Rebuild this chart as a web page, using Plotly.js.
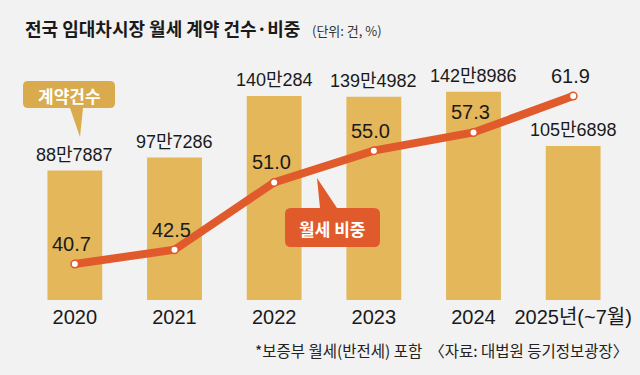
<!DOCTYPE html>
<html>
<head>
<meta charset="utf-8">
<script src="https://cdn.plot.ly/plotly-3.0.1.min.js"></script>
<style>html,body{margin:0;padding:0;background:#f2f2f2;}#chart{width:640px;height:375px;}</style>
</head>
<body>
<div id="chart"></div>
<script>
// ---- data ----
const years = ['2020', '2021', '2022', '2023', '2024', '2025년(~7월)'];
const counts = [887887, 977286, 1400284, 1394982, 1428986, 1056898];
const shares = [40.7, 42.5, 51.0, 55.0, 57.3, 61.9];
const titleText = '전국 임대차시장 월세 계약 건수·비중';
const unitText = '(단위: 건, %)';
const noteText = '*보증부 월세(반전세) 포함  〈자료: 대법원 등기정보광장〉';
const countLegend = '계약건수';
const shareLegend = '월세 비중';

// ---- layout helpers (pixel -> paper) ----
const L = 25, R = 623, T = 60, B = 300;
const px = x => (x - L) / (R - L);
const py = y => (B - y) / (B - T);
const NUM = 'Liberation Sans, Arial, Noto Sans CJK KR, sans-serif';
const KR = 'Noto Sans CJK KR, sans-serif';

function fmtCount(v) {
  return Math.floor(v / 10000) + '만' + (v % 10000);
}

function bubble(x0, y0, x1, y1, r, tail, tailTop) {
  const P = (x, y) => px(x).toFixed(5) + ',' + py(y).toFixed(5);
  let d = 'M ' + P(x0 + r, y0);
  if (tailTop) d += ' L ' + P(tail[0], y0) + ' L ' + P(tail[2], tail[3]) + ' L ' + P(tail[1], y0);
  d += ' L ' + P(x1 - r, y0) + ' Q ' + P(x1, y0) + ' ' + P(x1, y0 + r);
  d += ' L ' + P(x1, y1 - r) + ' Q ' + P(x1, y1) + ' ' + P(x1 - r, y1);
  if (!tailTop) d += ' L ' + P(tail[1], y1) + ' L ' + P(tail[2], tail[3]) + ' L ' + P(tail[0], y1);
  d += ' L ' + P(x0 + r, y1) + ' Q ' + P(x0, y1) + ' ' + P(x0, y1 - r);
  d += ' L ' + P(x0, y0 + r) + ' Q ' + P(x0, y0) + ' ' + P(x0 + r, y0) + ' Z';
  return d;
}

const barColor = '#e3b75a';
const lineColor = '#e05a2b';

const traces = [
  {
    type: 'bar', x: years, y: counts, width: 0.55,
    marker: {color: barColor}, hoverinfo: 'skip', yaxis: 'y'
  },
  {
    type: 'scatter', mode: 'lines+markers', x: years, y: shares, yaxis: 'y2',
    line: {color: lineColor, width: 8}, marker: {color: lineColor, size: 9},
    hoverinfo: 'skip'
  },
  {
    type: 'scatter', mode: 'markers', x: years, y: shares, yaxis: 'y2',
    marker: {color: '#ffffff', size: 6}, hoverinfo: 'skip'
  }
];

const annotations = [];
years.forEach((yr, i) => {
  annotations.push({
    x: i, y: counts[i], xref: 'x', yref: 'y', text: fmtCount(counts[i]),
    showarrow: false, yanchor: 'bottom', yshift: 4,
    font: {family: NUM, size: 18, color: '#1a1a1a'}
  });
  annotations.push({
    x: i, y: shares[i], xref: 'x', yref: 'y2', text: shares[i].toFixed(1),
    showarrow: false, yanchor: 'middle', yshift: 20, xshift: -3,
    font: {family: NUM, size: 20, color: '#1a1a1a'}
  });
});
annotations.push({
  xref: 'paper', yref: 'paper', x: px(310), y: py(30), xanchor: 'left', yanchor: 'middle',
  text: unitText, showarrow: false, font: {family: KR, size: 13, color: '#333'}
});
annotations.push({
  xref: 'paper', yref: 'paper', x: px(630), y: py(350), xanchor: 'right', yanchor: 'middle',
  text: noteText, showarrow: false, font: {family: KR, size: 15.5, color: '#222'}
});
annotations.push({
  xref: 'paper', yref: 'paper', x: px(69), y: py(95), xanchor: 'center', yanchor: 'middle',
  text: '<b>' + countLegend + '</b>', showarrow: false, font: {family: KR, size: 17, color: '#fff'}
});
annotations.push({
  xref: 'paper', yref: 'paper', x: px(332), y: py(228), xanchor: 'center', yanchor: 'middle',
  text: '<b>' + shareLegend + '</b>', showarrow: false, font: {family: KR, size: 17, color: '#fff'}
});

const shapes = [
  {type: 'path', xref: 'paper', yref: 'paper', path: bubble(23, 81, 115, 108, 5, [70, 83, 80, 137], false),
   fillcolor: '#d9ab4c', line: {width: 0}, layer: 'above'},
  {type: 'path', xref: 'paper', yref: 'paper', path: bubble(285, 208, 380, 247, 6, [320, 337, 317, 178], true),
   fillcolor: lineColor, line: {width: 0}, layer: 'above'}
];

const layout = {
  width: 640, height: 375,
  margin: {l: L, r: 640 - R, t: T, b: 375 - B},
  paper_bgcolor: '#f2f2f2', plot_bgcolor: '#f2f2f2',
  showlegend: false,
  title: {
    text: '<b>' + titleText + '</b>', x: 25 / 640, xanchor: 'left', y: 1 - 30 / 375, yanchor: 'middle',
    font: {family: KR, size: 18, color: '#1a1a1a'}
  },
  xaxis: {
    type: 'category', range: [-0.5, 5.5], autorange: false,
    showgrid: false, zeroline: false, showline: false,
    ticks: '', ticklabelstandoff: 3,
    tickfont: {family: NUM, size: 20, color: '#1a1a1a'}, fixedrange: true
  },
  yaxis: {range: [0, 1647000], autorange: false, visible: false, fixedrange: true},
  yaxis2: {range: [36.15, 66.45], autorange: false, overlaying: 'y', visible: false, fixedrange: true},
  annotations: annotations,
  shapes: shapes
};

Plotly.newPlot('chart', traces, layout, {displayModeBar: false, staticPlot: true});
</script>
</body>
</html>
